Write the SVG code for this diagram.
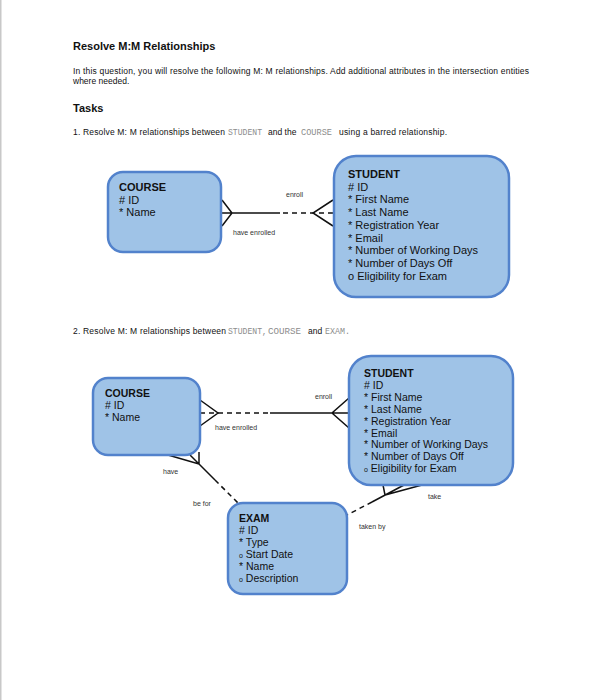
<svg xmlns="http://www.w3.org/2000/svg" width="609" height="700" viewBox="0 0 609 700">
<style>
.bg{fill:#ffffff}
.h{font-family:"Liberation Sans",Arial,sans-serif;font-weight:bold;font-size:11px;fill:#111}
.p{font-family:"Liberation Sans",Arial,sans-serif;font-size:8.5px;fill:#111}
.m{font-family:"Liberation Mono","Courier New",monospace;font-size:8.5px;fill:#8c8c8c}
.box{fill:#9fc3e7;stroke:#5282cc;stroke-width:2.5}
.t1{font-family:"Liberation Sans",Arial,sans-serif;font-size:11px;fill:#111}
.t2{font-family:"Liberation Sans",Arial,sans-serif;font-size:10.5px;fill:#111}
.b{font-weight:bold}
.lbl{font-family:"Liberation Sans",Arial,sans-serif;font-size:7px;fill:#333}
.ln{stroke:#111;stroke-width:1.5;fill:none}
.dash{stroke:#111;stroke-width:1.5;fill:none;stroke-dasharray:5,4}
.sm{font-size:7px}
</style>
<rect class="bg" x="0" y="0" width="609" height="700"/>
<rect x="0" y="0" width="1.5" height="700" fill="#c8c8c8"/>

<g id="header">
<text class="h" x="73" y="50">Resolve M:M Relationships</text>
<text class="p" x="73" y="74" textLength="456">In this question, you will resolve the following M: M relationships. Add additional attributes in the intersection entities</text>
<text class="p" x="73" y="84">where needed.</text>
<text class="h" x="73" y="112">Tasks</text>
<text class="p" x="73" y="135" textLength="152">1. Resolve M: M relationships between</text>
<text class="m" x="228" y="135" textLength="34" lengthAdjust="spacingAndGlyphs">STUDENT</text>
<text class="p" x="268" y="135">and the</text>
<text class="m" x="301" y="135" textLength="31" lengthAdjust="spacingAndGlyphs">COURSE</text>
<text class="p" x="339" y="135" textLength="108">using a barred relationship.</text>
<text class="p" x="73" y="334" textLength="153">2. Resolve M: M relationships between</text>
<text class="m" x="228" y="334" textLength="39" lengthAdjust="spacingAndGlyphs">STUDENT,</text>
<text class="m" x="268" y="334" textLength="33" lengthAdjust="spacingAndGlyphs">COURSE</text>
<text class="p" x="308" y="334">and</text>
<text class="m" x="325" y="334" textLength="25" lengthAdjust="spacingAndGlyphs">EXAM.</text>
</g>

<g id="connectors">
<!-- diagram 1 -->
<path class="ln" d="M222,213 H280 M222,200 L232,213 L222,226"/>
<path class="dash" d="M283,213 H333"/>
<path class="ln" d="M333,200 L313,213 L333,226"/>
<text class="lbl" x="286" y="197">enroll</text>
<text class="lbl" x="233" y="235">have enrolled</text>
<!-- diagram 2 -->
<path class="ln" d="M200,400 L218,413 L200,426"/>
<path class="dash" d="M200,413 H268"/>
<path class="ln" d="M270,413 H349 M349,398 L332,413 L349,428"/>
<text class="lbl" x="315" y="399">enroll</text>
<text class="lbl" x="215" y="430">have enrolled</text>
<!-- course - exam -->
<path class="ln" d="M168,455 L199,464 L199,452 M190,455 L215,480"/>
<path class="dash" d="M215,480 L238,503"/>
<text class="lbl" x="163" y="474">have</text>
<text class="lbl" x="193" y="506">be for</text>
<!-- student - exam -->
<path class="ln" d="M383,485 L385,495 L422,485 M404,485 L372,502"/>
<path class="dash" d="M372,502 L347,515"/>
<text class="lbl" x="428" y="499">take</text>
<text class="lbl" x="359" y="529">taken by</text>
</g>

<g id="course1">
<rect class="box" x="108" y="172" width="113" height="80" rx="15"/>
<text class="t1" x="119" y="191"><tspan class="b">COURSE</tspan><tspan x="119" dy="12.5"># ID</tspan><tspan x="119" dy="12.5">* Name</tspan></text>
</g>

<g id="student1">
<rect class="box" x="334" y="156" width="175" height="141" rx="22"/>
<text class="t1" x="348" y="178"><tspan class="b">STUDENT</tspan><tspan x="348" dy="12.7"># ID</tspan><tspan x="348" dy="12.7">* First Name</tspan><tspan x="348" dy="12.7">* Last Name</tspan><tspan x="348" dy="12.7">* Registration Year</tspan><tspan x="348" dy="12.7">* Email</tspan><tspan x="348" dy="12.7">* Number of Working Days</tspan><tspan x="348" dy="12.7">* Number of Days Off</tspan><tspan x="348" dy="12.7">o Eligibility for Exam</tspan></text>
</g>

<g id="course2">
<rect class="box" x="93" y="378" width="107" height="77" rx="15"/>
<text class="t2" x="105" y="397"><tspan class="b">COURSE</tspan><tspan x="105" dy="12"># ID</tspan><tspan x="105" dy="12">* Name</tspan></text>
</g>

<g id="student2">
<rect class="box" x="349" y="356" width="164" height="129" rx="22"/>
<text class="t2" x="364" y="377"><tspan class="b">STUDENT</tspan><tspan x="364" dy="11.9"># ID</tspan><tspan x="364" dy="11.9">* First Name</tspan><tspan x="364" dy="11.9">* Last Name</tspan><tspan x="364" dy="11.9">* Registration Year</tspan><tspan x="364" dy="11.9">* Email</tspan><tspan x="364" dy="11.9">* Number of Working Days</tspan><tspan x="364" dy="11.9">* Number of Days Off</tspan><tspan x="364" dy="11.9"><tspan class="sm">o</tspan> Eligibility for Exam</tspan></text>
</g>

<g id="exam">
<rect class="box" x="228" y="503" width="119" height="91" rx="15"/>
<text class="t2" x="239" y="522"><tspan class="b">EXAM</tspan><tspan x="239" dy="12"># ID</tspan><tspan x="239" dy="12">* Type</tspan><tspan x="239" dy="12"><tspan class="sm">o</tspan> Start Date</tspan><tspan x="239" dy="12">* Name</tspan><tspan x="239" dy="12"><tspan class="sm">o</tspan> Description</tspan></text>
</g>
</svg>
